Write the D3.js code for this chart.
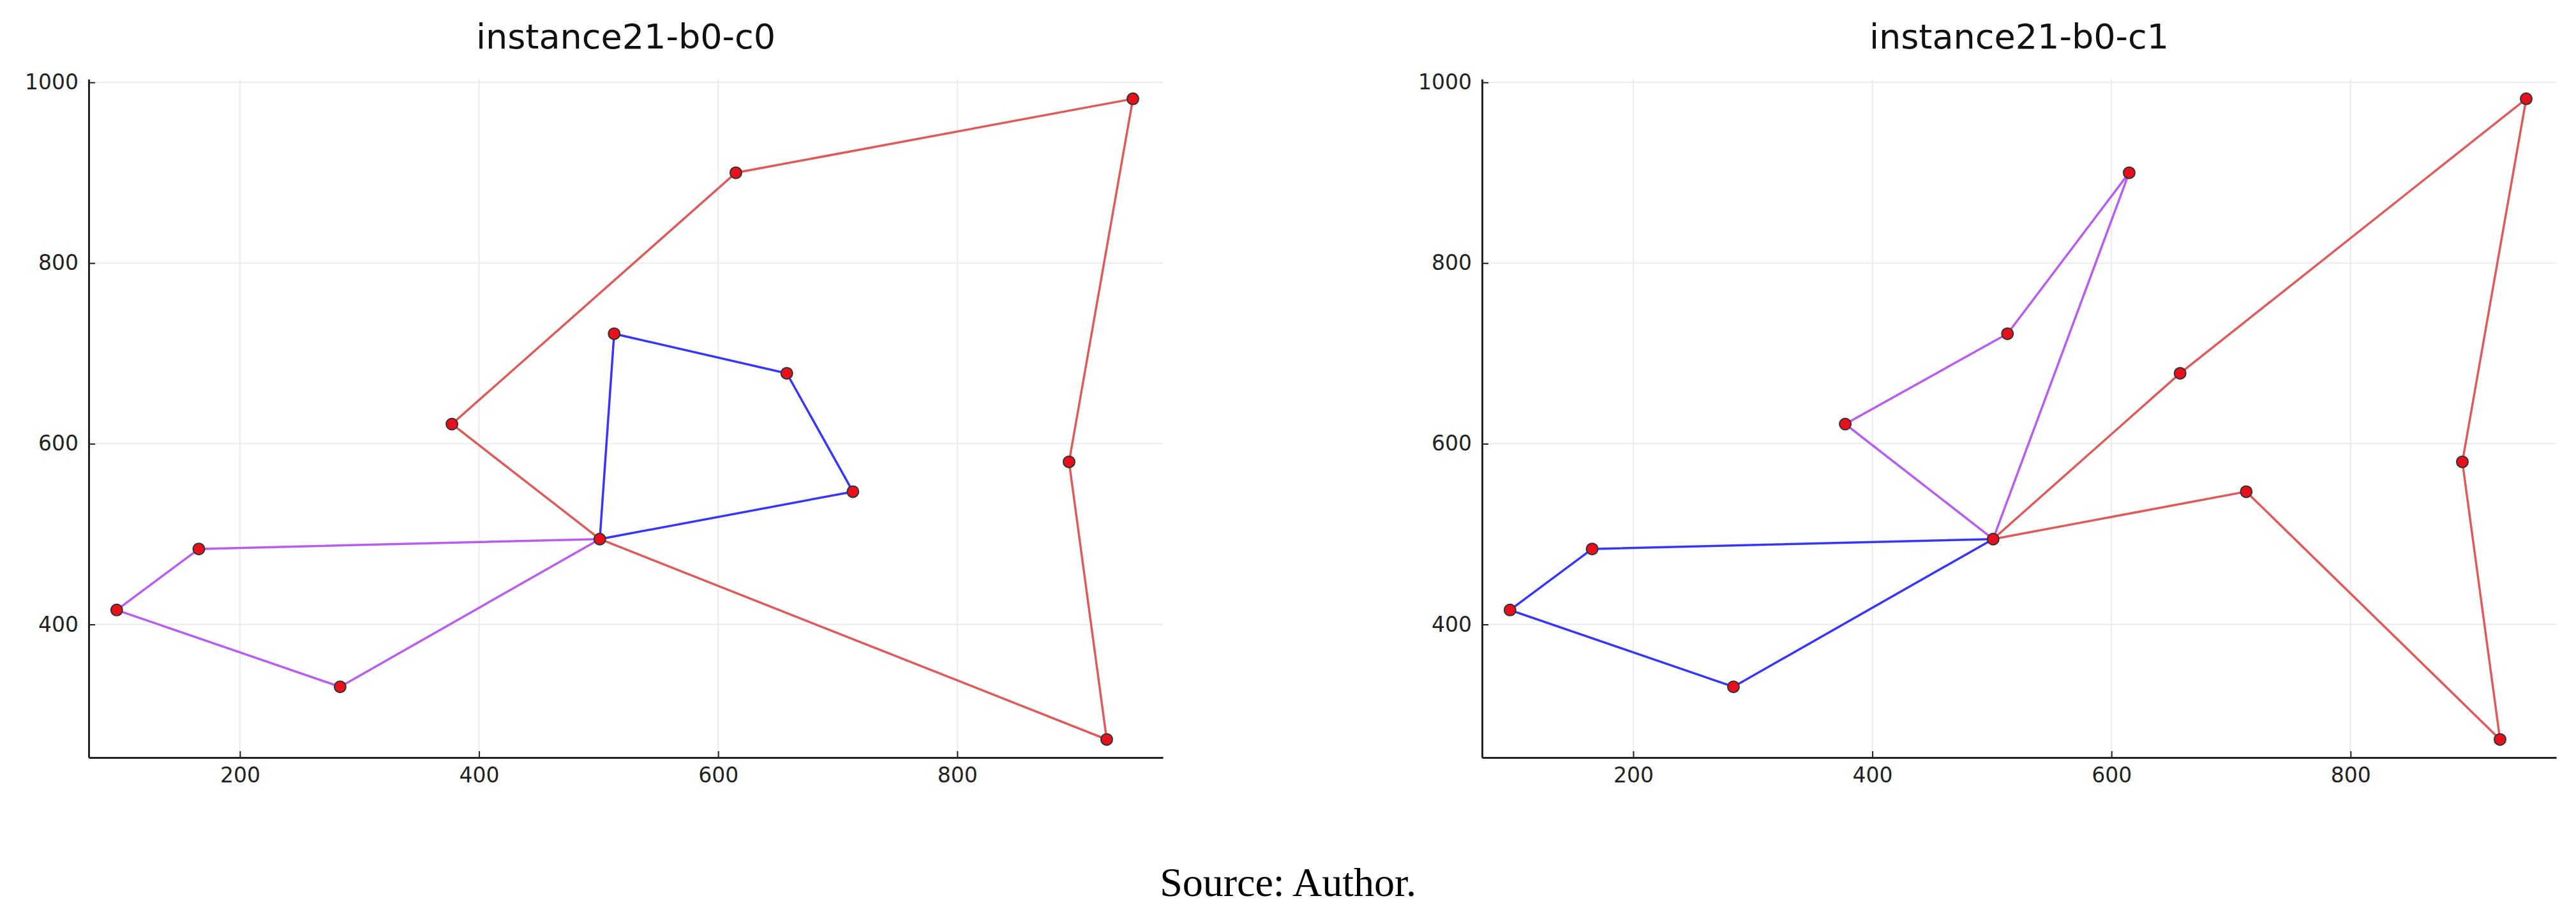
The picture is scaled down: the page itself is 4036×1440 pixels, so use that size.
<!DOCTYPE html>
<html><head><meta charset="utf-8">
<script src="https://cdn.jsdelivr.net/npm/d3@7"></script>
<style>body{margin:0;background:#fff}</style></head>
<body><svg id="c" width="4036" height="1440"></svg>
<script>
const xs=[96.9,165.6,283.8,377.3,501,513,614.8,657.4,712.7,893.5,925,946.9];
const ys=[416,483.6,331,621.8,494.5,721.8,900,678,547,580,272.7,981.8];
const titles=["instance21-b0-c0","instance21-b0-c1"];
const routes0=[[4,3,6,11,9,10,4],[4,5,7,8,4],[4,1,0,2,4]];
const routes1=[[4,3,5,6,4],[4,7,11,9,10,8,4],[4,1,0,2,4]];
const colors0=["#e05a5a","#3535ff","#b85cf2"];
const colors1=["#b85cf2","#e05a5a","#3535ff"];
const xTicks=[200,400,600,800], yTicks=[400,600,800,1000];
const svg=d3.select("#c");
function panel(x0,x1,title,routes,colors){
  const top=124,bot=1187;
  const x=d3.scaleLinear().domain([73.5,972]).range([x0,x1]);
  const y=d3.scaleLinear().domain([252.7,1003.6]).range([bot,top]);
  const g=svg.append("g");
  g.selectAll(".gx").data(xTicks).join("line").attr("x1",d=>x(d)).attr("x2",d=>x(d)).attr("y1",top).attr("y2",bot).attr("stroke","#ebebeb").attr("stroke-width",2);
  g.selectAll(".gy").data(yTicks).join("line").attr("y1",d=>y(d)).attr("y2",d=>y(d)).attr("x1",x0).attr("x2",x1).attr("stroke","#ebebeb").attr("stroke-width",2);
  const ax=g.append("g").attr("transform",`translate(0,${bot})`).call(d3.axisBottom(x).tickValues(xTicks).tickFormat(d3.format("d")).tickSize(-10).tickSizeOuter(0).tickPadding(16));
  const ay=g.append("g").attr("transform",`translate(${x0},0)`).call(d3.axisLeft(y).tickValues(yTicks).tickFormat(d3.format("d")).tickSize(-10).tickSizeOuter(0).tickPadding(16));
  [ax,ay].forEach(a=>{a.selectAll("text").attr("font-size",33).attr("font-family","DejaVu Sans").attr("fill","#222");
    a.select(".domain").attr("stroke","#222").attr("stroke-width",3);a.selectAll(".tick line").attr("stroke","#222").attr("stroke-width",2);});
  const line=d3.line().x(i=>x(xs[i])).y(i=>y(ys[i]));
  routes.forEach((r,k)=>g.append("path").attr("d",line(r)).attr("fill","none").attr("stroke",colors[k]).attr("stroke-width",3.5));
  g.selectAll("circle").data(xs.map((v,i)=>i)).join("circle").attr("cx",i=>x(xs[i])).attr("cy",i=>y(ys[i])).attr("r",9)
    .attr("fill","#e8101a").attr("stroke","#333").attr("stroke-width",2);
  g.append("text").attr("x",(x0+x1)/2).attr("y",76).attr("text-anchor","middle").attr("font-family","DejaVu Sans").attr("font-size",54).attr("fill","#111").text(title);
}
panel(139,1822,titles[0],routes0,colors0);
panel(2322,4005,titles[1],routes1,colors1);
svg.append("text").attr("x",2018).attr("y",1404).attr("text-anchor","middle").attr("font-family","Liberation Serif").attr("font-size",64).text("Source: Author.");
</script></body></html>
